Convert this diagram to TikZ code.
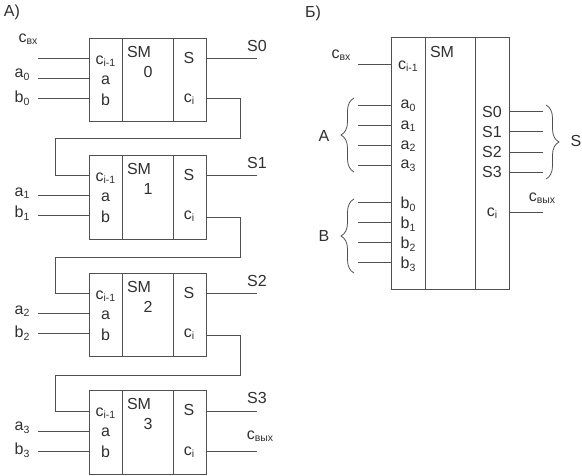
\documentclass[tikz,border=0pt]{standalone}
\usepackage{fontspec}
\setmainfont{Liberation Sans}
\usetikzlibrary{decorations.pathreplacing}
\newcommand{\ind}[1]{\raisebox{-.3ex}{\fontsize{10.5}{10.5}\selectfont #1}}
\definecolor{linec}{HTML}{505050}
\definecolor{textc}{HTML}{303030}

\begin{document}
\begin{tikzpicture}[x=1pt,y=-1pt,
  cell/.style={draw=linec,line width=1pt,inner sep=0,outer sep=0,anchor=north west,minimum height=#1},
  wire/.style={draw=linec,line width=1pt},
  lab/.style={text=textc,inner sep=0,font=\fontsize{16}{16}\selectfont},
  curly/.style={draw=linec,line width=.8pt,decorate,decoration={brace,amplitude=13pt}}]
\useasboundingbox (0,0) rectangle (582,475);
\node[lab] (titleA) at (12,12) {А)}; \node[lab] (titleB) at (313,13) {Б)};
% first block
\node[cell=83,minimum width=33.5] (L0) at (89,38) {}; \node[cell=83,minimum width=50.5] (M0) at (L0.north east) {}; \node[cell=83,minimum width=33] (R0) at (M0.north east) {};
\node[lab] (ci0) at (105.5,61) {c\ind{i-1}}; \node[lab] (a0) at (105.5,80) {a}; \node[lab] (b0) at (105.5,100) {b};
\node[lab] (sm0) at (139,52) {SM}; \node[lab] (n0) at (148,72) {0}; \node[lab] (s0) at (189,58) {S}; \node[lab] (co0) at (189,99) {c\ind{i}};
\node[lab] (cin) at (28,39) {c\ind{вх}}; \node[lab] (xa0) at (22,75) {a\ind{0}}; \node[lab] (xb0) at (22,98) {b\ind{0}}; \node[lab] (xs0) at (257,46) {S0};
\coordinate (c0) at (38,58); \coordinate (p0) at (38,78); \coordinate (r0) at (38,98); \coordinate (t0) at (257,58); \coordinate (q0) at (240,98); \coordinate (k0) at (55,138);
\draw[wire] (c0) -- (c0 -| L0.west); \draw[wire] (p0) -- (p0 -| L0.west); \draw[wire] (r0) -- (r0 -| L0.west); \draw[wire] (t0) -- (t0 -| R0.east);
% second block
\node[cell=84,minimum width=33.5] (L1) at (89,155) {}; \node[cell=84,minimum width=50.5] (M1) at (L1.north east) {}; \node[cell=84,minimum width=33] (R1) at (M1.north east) {};
\node[lab] (ci1) at (105.5,178) {c\ind{i-1}}; \node[lab] (a1) at (105.5,197) {a}; \node[lab] (b1) at (105.5,217) {b};
\node[lab] (sm1) at (139,169) {SM}; \node[lab] (n1) at (148,189) {1}; \node[lab] (s1) at (189,175) {S}; \node[lab] (co1) at (189,216) {c\ind{i}};
\node[lab] (xa1) at (22,193) {a\ind{1}}; \node[lab] (xb1) at (22,213) {b\ind{1}}; \node[lab] (xs1) at (257,163) {S1};
\coordinate (c1) at (55,175); \coordinate (p1) at (38,195); \coordinate (r1) at (38,215); \coordinate (t1) at (257,175); \coordinate (q1) at (240,217); \coordinate (k1) at (55,257);
\draw[wire] (p1) -- (p1 -| L1.west); \draw[wire] (r1) -- (r1 -| L1.west); \draw[wire] (t1) -- (t1 -| R1.east);
% third block
\node[cell=83,minimum width=33.5] (L2) at (89,273) {}; \node[cell=83,minimum width=50.5] (M2) at (L2.north east) {}; \node[cell=83,minimum width=33] (R2) at (M2.north east) {};
\node[lab] (ci2) at (105.5,296) {c\ind{i-1}}; \node[lab] (a2) at (105.5,315) {a}; \node[lab] (b2) at (105.5,335) {b};
\node[lab] (sm2) at (139,287) {SM}; \node[lab] (n2) at (148,307) {2}; \node[lab] (s2) at (189,293) {S}; \node[lab] (co2) at (189,334) {c\ind{i}};
\node[lab] (xa2) at (22,311) {a\ind{2}}; \node[lab] (xb2) at (22,333) {b\ind{2}}; \node[lab] (xs2) at (257,281) {S2};
\coordinate (c2) at (55,293); \coordinate (p2) at (38,313); \coordinate (r2) at (38,333); \coordinate (t2) at (257,293); \coordinate (q2) at (240,335); \coordinate (k2) at (55,375);
\draw[wire] (p2) -- (p2 -| L2.west); \draw[wire] (r2) -- (r2 -| L2.west); \draw[wire] (t2) -- (t2 -| R2.east);
% fourth block
\node[cell=84,minimum width=33.5] (L3) at (89,390) {}; \node[cell=84,minimum width=50.5] (M3) at (L3.north east) {}; \node[cell=84,minimum width=33] (R3) at (M3.north east) {};
\node[lab] (ci3) at (105.5,413) {c\ind{i-1}}; \node[lab] (a3) at (105.5,432) {a}; \node[lab] (b3) at (105.5,452) {b};
\node[lab] (sm3) at (139,404) {SM}; \node[lab] (n3) at (148,424) {3}; \node[lab] (s3) at (189,410) {S}; \node[lab] (co3) at (189,452) {c\ind{i}};
\node[lab] (xa3) at (22,428) {a\ind{3}}; \node[lab] (xb3) at (22,450) {b\ind{3}}; \node[lab] (xs3) at (257,398) {S3}; \node[lab] (cout) at (260,436) {c\ind{вых}};
\coordinate (c3) at (55,411); \coordinate (p3) at (38,431); \coordinate (r3) at (38,451); \coordinate (t3) at (257,411); \coordinate (u3) at (257,451);
\draw[wire] (p3) -- (p3 -| L3.west); \draw[wire] (r3) -- (r3 -| L3.west); \draw[wire] (t3) -- (t3 -| R3.east); \draw[wire] (u3) -- (u3 -| R3.east);
% carries
\draw[wire] (q0 -| R0.east) -- (q0) |- (k0) |- (c1 -| L1.west);
\draw[wire] (q1 -| R1.east) -- (q1) |- (k1) |- (c2 -| L2.west);
\draw[wire] (q2 -| R2.east) -- (q2) |- (k2) |- (c3 -| L3.west);
% right part
\node[cell=252,minimum width=33.5] (LB) at (391.5,37) {}; \node[cell=252,minimum width=50.5] (MB) at (LB.north east) {}; \node[cell=252,minimum width=34] (RB) at (MB.north east) {};
\node[lab] (smB) at (442,52) {SM}; \node[lab] (cB) at (408,66) {c\ind{i-1}}; \node[lab] (cinB) at (341,55) {c\ind{вх}};
\node[lab] (aB0) at (408,106) {a\ind{0}}; \node[lab] (aB1) at (408,126) {a\ind{1}}; \node[lab] (aB2) at (408,146) {a\ind{2}}; \node[lab] (aB3) at (408,166) {a\ind{3}};
\node[lab] (bB0) at (408,204) {b\ind{0}}; \node[lab] (bB1) at (408,224) {b\ind{1}}; \node[lab] (bB2) at (408,244) {b\ind{2}}; \node[lab] (bB3) at (408,264) {b\ind{3}};
\node[lab] (sB0) at (492,112) {S0}; \node[lab] (sB1) at (492,132) {S1}; \node[lab] (sB2) at (492,152) {S2}; \node[lab] (sB3) at (492,172) {S3};
\node[lab] (coB) at (492,213) {c\ind{i}}; \node[lab] (coutB) at (542,198) {c\ind{вых}};
\node[lab] (nameA) at (324,136) {A}; \node[lab] (nameB) at (324,236) {B}; \node[lab] (nameS) at (576,141) {S};
\coordinate (wc) at (358,64); \coordinate (wa0) at (358,105); \coordinate (wa1) at (358,125); \coordinate (wa2) at (358,145); \coordinate (wa3) at (358,165);
\coordinate (wb0) at (358,202); \coordinate (wb1) at (358,222); \coordinate (wb2) at (358,242); \coordinate (wb3) at (358,262);
\coordinate (ws0) at (543,111); \coordinate (ws1) at (543,131); \coordinate (ws2) at (543,152); \coordinate (ws3) at (543,172); \coordinate (wo) at (543,212);
\draw[wire] (wc) -- (wc -| LB.west); \draw[wire] (wa0) -- (wa0 -| LB.west); \draw[wire] (wa1) -- (wa1 -| LB.west); \draw[wire] (wa2) -- (wa2 -| LB.west); \draw[wire] (wa3) -- (wa3 -| LB.west);
\draw[wire] (wb0) -- (wb0 -| LB.west); \draw[wire] (wb1) -- (wb1 -| LB.west); \draw[wire] (wb2) -- (wb2 -| LB.west); \draw[wire] (wb3) -- (wb3 -| LB.west);
\draw[wire] (ws0) -- (ws0 -| RB.east); \draw[wire] (ws1) -- (ws1 -| RB.east); \draw[wire] (ws2) -- (ws2 -| RB.east); \draw[wire] (ws3) -- (ws3 -| RB.east); \draw[wire] (wo) -- (wo -| RB.east);
\draw[curly] (354,172) -- (354,98); \draw[curly] (354,273) -- (354,199); \draw[curly] (546,105) -- (546,179);
\end{tikzpicture}
\end{document}
